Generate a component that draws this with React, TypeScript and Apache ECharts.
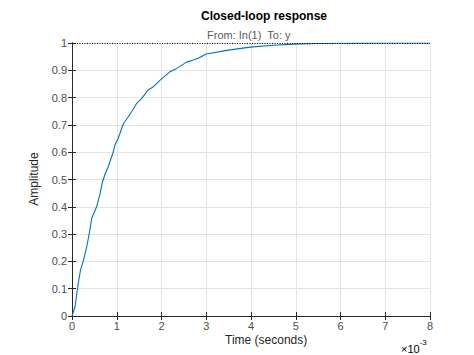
import React, { useEffect, useRef } from "react";
import * as echarts from "echarts";

// time in units of 1e-3 s
const timeMs = [0, 0.067, 0.14, 0.19, 0.25, 0.33, 0.4, 0.44, 0.55, 0.63, 0.68, 0.74, 0.81, 0.92, 0.96, 1.03, 1.15, 1.26, 1.33, 1.45, 1.56, 1.7, 1.82, 1.97, 2.19, 2.34, 2.56, 2.71, 2.82, 3.0, 3.46, 3.98, 4.5, 4.95, 5.5, 6.0, 6.5, 7.0, 7.5, 8.0];
const amplitude = [0, 0.034, 0.12, 0.168, 0.2, 0.254, 0.315, 0.358, 0.4, 0.45, 0.49, 0.52, 0.547, 0.6, 0.626, 0.65, 0.705, 0.73, 0.748, 0.78, 0.797, 0.828, 0.84, 0.864, 0.895, 0.907, 0.93, 0.938, 0.944, 0.96, 0.973, 0.985, 0.992, 0.996, 0.998, 0.999, 0.9995, 1.0, 1.0, 1.0];
const xTicks = [0, 1, 2, 3, 4, 5, 6, 7, 8];
const yTicks = [0, 0.1, 0.2, 0.3, 0.4, 0.5, 0.6, 0.7, 0.8, 0.9, 1];
const steadyState = 1;

const FONT = "Liberation Sans, Arial, sans-serif";
const AXIS_COLOR = "#262626";
const LABEL_COLOR = "#4d4d4d";

export default function App() {
  const ref = useRef<HTMLDivElement>(null);
  useEffect(() => {
    if (!ref.current) return;
    const chart = echarts.init(ref.current, undefined, { renderer: "svg" });
    const data = timeMs.map((t, i) => [t, amplitude[i]]);
    const axisCommon = {
      type: "value" as const,
      axisLine: { show: true, lineStyle: { color: AXIS_COLOR, width: 1 } },
      axisTick: { show: true, inside: true, length: 4, lineStyle: { color: AXIS_COLOR } },
    };
    chart.setOption({
      animation: false,
      backgroundColor: "#fff",
      textStyle: { fontFamily: FONT },
      grid: { left: 72, right: 44, top: 43, bottom: 39, show: false },
      xAxis: [
        {
          ...axisCommon,
          min: xTicks[0],
          max: xTicks[xTicks.length - 1],
          interval: 1,
          position: "bottom",
          axisLabel: { color: LABEL_COLOR, fontSize: 11, fontFamily: FONT, margin: 4 },
          splitLine: { show: true, lineStyle: { color: "#e3e3e3", width: 1 } },
        },
        {
          ...axisCommon,
          min: xTicks[0],
          max: xTicks[xTicks.length - 1],
          interval: 1,
          position: "top",
          axisLabel: { show: false },
          splitLine: { show: false },
        },
      ],
      yAxis: [
        {
          ...axisCommon,
          min: yTicks[0],
          max: yTicks[yTicks.length - 1],
          interval: 0.1,
          position: "left",
          axisLabel: {
            color: LABEL_COLOR,
            fontSize: 11,
            fontFamily: FONT,
            margin: 5,
            formatter: (v: number) => String(Math.round(v * 10) / 10),
          },
          splitLine: { show: true, lineStyle: { color: "#e3e3e3", width: 1 } },
        },
        {
          ...axisCommon,
          min: yTicks[0],
          max: yTicks[yTicks.length - 1],
          interval: 0.1,
          position: "right",
          axisLabel: { show: false },
          splitLine: { show: false },
        },
      ],
      series: [
        {
          type: "line",
          data,
          showSymbol: false,
          symbol: "none",
          smooth: false,
          lineStyle: { color: "#0072BD", width: 1.1 },
          markLine: {
            silent: true,
            symbol: ["none", "none"],
            label: { show: false },
            lineStyle: { color: "#000", type: [1, 1.5], width: 1 },
            data: [{ yAxis: steadyState }],
          },
          z: 3,
        },
      ],
      graphic: [
        {
          type: "text",
          left: 267 - 66,
          top: 10,
          style: { text: "Closed-loop response", font: `bold 12px ${FONT}`, fill: "#000" },
        },
        {
          type: "text",
          left: 207,
          top: 29,
          style: { text: "From: In(1)  To: y", font: `11px ${FONT}`, fill: "#5a5a5a" },
        },
        {
          type: "text",
          left: 225,
          top: 334,
          style: { text: "Time (seconds)", font: `12px ${FONT}`, fill: "#262626" },
        },
        {
          type: "text",
          x: 34,
          y: 179,
          rotation: Math.PI / 2,
          style: {
            text: "Amplitude",
            font: `12px ${FONT}`,
            fill: "#262626",
            align: "center",
            verticalAlign: "middle",
          },
        },
        {
          type: "text",
          left: 401,
          top: 338,
          style: {
            text: "{a|×10}{b|-3}",
            rich: {
              a: { fontSize: 11, color: LABEL_COLOR, fontFamily: FONT, verticalAlign: "bottom", padding: [5, 0, 0, 0] },
              b: { fontSize: 8, color: LABEL_COLOR, fontFamily: FONT, verticalAlign: "top", padding: [0, 0, 7, 0] },
            },
          },
        },
      ],
    });
    return () => chart.dispose();
  }, []);
  return <div ref={ref} style={{ width: 474, height: 355, position: "absolute", left: 0, top: 0 }} />;
}
